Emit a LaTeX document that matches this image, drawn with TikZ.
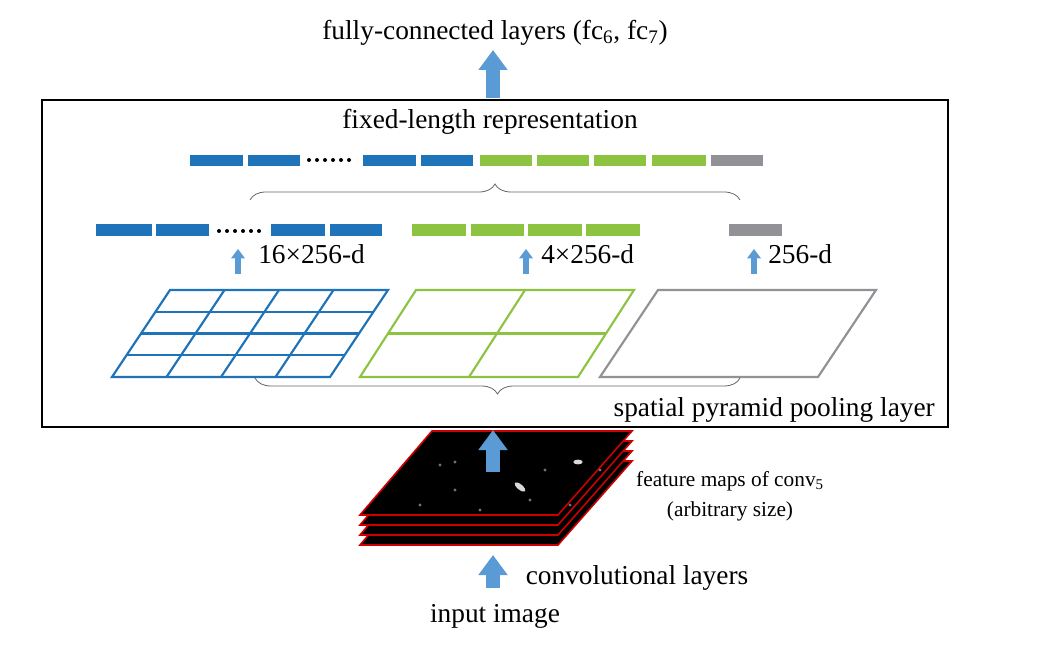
\documentclass[tikz,border=0pt]{standalone}
\usepackage{fontspec}
\setmainfont{Liberation Serif}
\usetikzlibrary{arrows.meta,decorations.pathreplacing,calc}
\definecolor{ablue}{RGB}{91,155,213}
\definecolor{bblue}{RGB}{30,115,185}
\definecolor{bgreen}{RGB}{140,195,65}
\definecolor{bgray}{RGB}{145,145,150}
\begin{document}
\begin{tikzpicture}[x=0.75pt,y=-0.75pt,
  txt/.style={font=\fontsize{20.5}{24}\selectfont, inner sep=0pt},
  big/.style={line width=10.5pt,ablue,-{Triangle[length=15pt,width=21pt]}},
  small/.style={line width=4.5pt,ablue,-{Triangle[length=7pt,width=10pt]}},
  brc/.style={draw=gray!80!black,line width=0.6pt,decorate,decoration={brace,amplitude=12pt}}]
\useasboundingbox (0,0) rectangle (1056,648);
% box
\draw[line width=0.8pt] (42,100) rectangle (948,427);
\node[txt] (fc) at (495,33) {fully-connected layers (fc\textsubscript{6}, fc\textsubscript{7})};
\coordinate (a1s) at (493,98); \coordinate (a1e) at (493,50);
\draw[big] (a1s) -- (a1e);
\node[txt] (fl) at (490,122) {fixed-length representation};
% top bars
\foreach \a/\b/\c in {190/243/bblue,248/300/bblue,363/416/bblue,421/473/bblue,480/532/bgreen,537/589/bgreen,594/646/bgreen,652/706/bgreen,711/763/bgray}
  \fill[\c] (\a,155) rectangle (\b,166);
\foreach \i in {0,...,5} \fill (309+\i*8,160) circle (1.5pt);
% second bars
\foreach \a/\b/\c in {96/152/bblue,156/209/bblue,271/325/bblue,330/382/bblue,412/466/bgreen,471/524/bgreen,528/582/bgreen,586/640/bgreen,729/782/bgray}
  \fill[\c] (\a,224) rectangle (\b,236);
\foreach \i in {0,...,5} \fill (219+\i*8,231) circle (1.5pt);
\draw[brc] (250,200) -- (740,200);
\node[txt,anchor=west] (l1) at (258,254) {16×256-d};
\node[txt,anchor=west] (l2) at (541,254) {4×256-d};
\node[txt,anchor=west] (l3) at (768,254) {256-d};
\foreach \x in {238,526,754} \draw[small] (\x,274) -- (\x,249);
% grids
\draw[bblue,line width=1.6pt] (112,377) -- (330,377) -- (388,290) -- (170,290) -- cycle;
\foreach \t in {0.25,0.5,0.75} {
  \draw[bblue,line width=1.6pt] ($(112,377)!\t!(330,377)$) -- ($(170,290)!\t!(388,290)$);
  \draw[bblue,line width=1.6pt] ($(112,377)!\t!(170,290)$) -- ($(330,377)!\t!(388,290)$);
}
\draw[bgreen,line width=1.6pt] (360,377) -- (578,377) -- (634,290) -- (416,290) -- cycle;
\draw[bgreen,line width=1.6pt] (469,377) -- (525,290);
\draw[bgreen,line width=1.6pt] (388,333.5) -- (606,333.5);
\draw[bgray,line width=1.6pt] (600,377) -- (818,377) -- (876,290) -- (658,290) -- cycle;
\draw[brc] (740,378) -- (255,378);
\node[txt,anchor=east] (spp) at (935,410) {spatial pyramid pooling layer};
% feature maps
\foreach \o in {30,20,10,0}
  \filldraw[fill=black,draw=red!80!black,line width=1.2pt] (360,515+\o) -- (558,515+\o) -- (632,431+\o) -- (432,431+\o) -- cycle;
\foreach \p/\q in {440/465,455/462,545/470,420/505,480/510,570/505,600/470,455/490,530/500}
  \fill[white!45!black] (\p,\q) circle (1.2pt);
\fill[white!85!black,rotate around={-40:(520,487)}] (520,487) ellipse (5pt and 2pt);
\fill[white!85!black] (578,462) ellipse (3.5pt and 1.8pt);
\draw[big] (493,472) -- (493,430);
\node[txt,font=\fontsize{16}{19}\selectfont] (fm1) at (730,481) {feature maps of conv\textsubscript{5}};
\node[txt,font=\fontsize{16}{19}\selectfont] (fm2) at (730,511) {(arbitrary size)};
\draw[big] (493,588) -- (493,555);
\node[txt] (cl) at (637,578) {convolutional layers};
\node[txt] (in) at (495,616) {input image};
\end{tikzpicture}
\end{document}
